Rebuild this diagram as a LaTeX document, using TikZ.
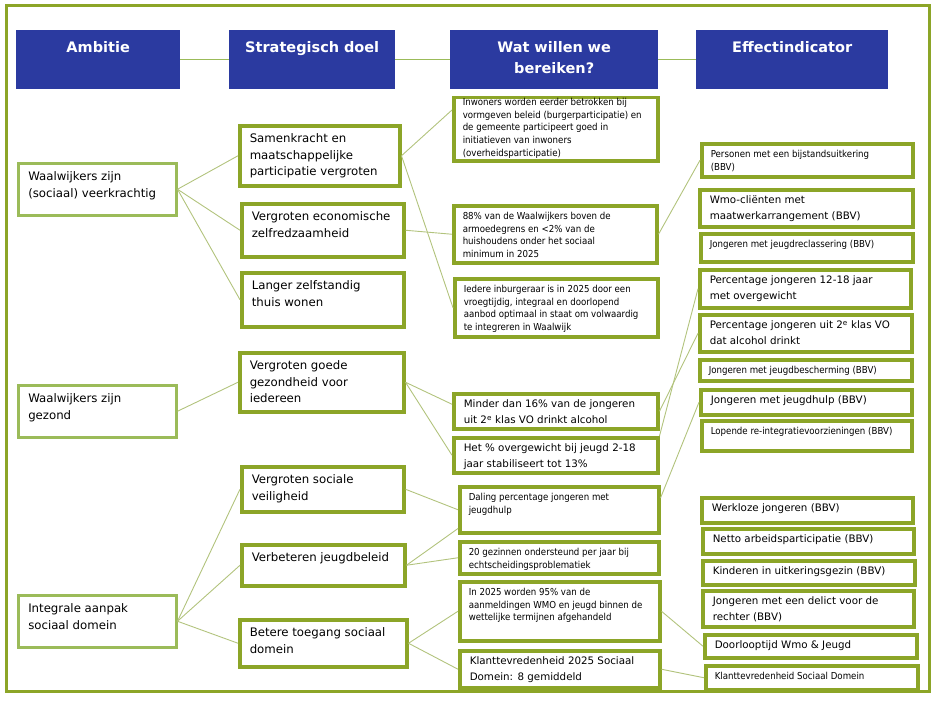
\documentclass[tikz,border=0pt]{standalone}
\usepackage{fontspec}
\setmainfont{DejaVu Sans}
\newfontfamily\narrowfont[FakeStretch = 0.9]{DejaVu Sans}
\definecolor{headblue}{RGB}{43,58,160}
\definecolor{boxolive}{RGB}{140,165,40}
\definecolor{lightolive}{RGB}{155,187,89}
\definecolor{linkolive}{RGB}{178,195,125}

\begin{document}
\begin{tikzpicture}
[
x = 1pt, y = -1pt,
header/.style 2 args = {rectangle, fill = headblue, text = white, anchor = north west, font = \bfseries\fontsize{14.5}{21}\selectfont, align = center, inner xsep = 4pt, inner ysep = 10pt, text height = 12pt, text width = #1 - 8pt, text depth = #2 - 32pt},
ambition/.style 2 args = {rectangle, draw = lightolive, line width = 2.5pt, fill = white, anchor = north west, xshift = 2pt, yshift = -2pt, font = \fontsize{11.75}{17}\selectfont, align = flush left, inner xsep = 10pt, inner ysep = 4pt, text height = 13pt, text width = #1 - 24pt, text depth = #2 - 25pt},
goal/.style 2 args = {ambition = {#1}{#2}, draw = boxolive, line width = 3.5pt, font = \fontsize{11.75}{16.5}\selectfont},
narrow/.style 2 args = {goal = {#1}{#2}, font = \narrowfont\fontsize{9.6}{12.6}\selectfont, inner xsep = 9pt, inner ysep = 3pt, text height = 11pt, text width = #1 - 22pt, text depth = #2 - 21pt},
wide/.style 2 args = {goal = {#1}{#2}, font = \fontsize{10.3}{16}\selectfont, inner ysep = 3pt, text height = 11pt, text depth = #2 - 21pt},
link/.style = {draw = linkolive, line width = 0.9pt},
headlink/.style = {draw = lightolive, line width = 1pt}
]
    \useasboundingbox (0, 0) rectangle (935, 701);
    \draw[boxolive, line width = 3pt] (6, 6) rectangle (929, 691);

    % headers
    \node[header = {164}{59}] (ambitie) at (16, 30) {Ambitie};
    \node[header = {166}{59}] (doel) at (229, 30) {Strategisch doel};
    \node[header = {208}{59}] (wat) at (450, 30) {Wat willen we\\bereiken?};
    \node[header = {192}{59}] (effect) at (696, 30) {Effectindicator};

    % ambitie
    \node[ambition = {162}{56}] (veerkrachtig) at (15, 160) {Waalwijkers zijn\\(sociaal) veerkrachtig};
    \node[ambition = {162}{56}] (gezond) at (15, 382) {Waalwijkers zijn\\gezond};
    \node[ambition = {162}{56}] (integraal) at (15, 592) {Integrale aanpak\\sociaal domein};

    % strategisch doel
    \node[goal = {164}{64}] (samenkracht) at (236, 122) {Samenkracht en\\maatschappelijke\\participatie vergroten};
    \node[goal = {166}{57}] (economisch) at (238, 200) {Vergroten economische\\zelfredzaamheid};
    \node[goal = {166}{58}] (zelfstandig) at (238, 269) {Langer zelfstandig\\thuis wonen};
    \node[goal = {168}{63}] (gezondheid) at (236, 349) {Vergroten goede\\gezondheid voor\\iedereen};
    \node[goal = {166}{49}] (veiligheid) at (238, 463) {Vergroten sociale\\veiligheid};
    \node[goal = {167}{45}] (jeugdbeleid) at (238, 541) {Verbeteren jeugdbeleid};
    \node[goal = {171}{51}] (toegang) at (236, 616) {Betere toegang sociaal\\domein};

    % wat willen we bereiken
    \node[narrow = {208}{67}, text height = 5pt, text depth = 52pt] (inwoners) at (450, 94) {Inwoners worden eerder betrokken bij\\vormgeven beleid (burgerparticipatie) en\\de gemeente participeert goed in\\initiatieven van inwoners\\(overheidsparticipatie)};
    \node[narrow = {207}{61}] (armoede) at (450, 202) {88\% van de Waalwijkers boven de\\armoedegrens en <2\% van de\\huishoudens onder het sociaal\\minimum in 2025};
    \node[narrow = {207}{62}] (inburgering) at (451, 275) {Iedere inburgeraar is in 2025 door een\\vroegtijdig, integraal en doorlopend\\aanbod optimaal in staat om volwaardig\\te integreren in Waalwijk};
    \node[wide = {208}{39}] (alcohol) at (450, 390) {Minder dan 16\% van de jongeren\\uit 2\textsuperscript{e} klas VO drinkt alcohol};
    \node[wide = {208}{39}] (overgewicht) at (450, 434) {Het \% overgewicht bij jeugd 2-18\\jaar stabiliseert tot 13\%};
    \node[narrow = {203}{50}] (jeugdhulp) at (456, 483) {Daling percentage jongeren met\\jeugdhulp};
    \node[narrow = {203}{36}] (scheiding) at (456, 538) {20 gezinnen ondersteund per jaar bij\\echtscheidingsproblematiek};
    \node[narrow = {204}{63}] (termijnen) at (456, 578) {In 2025 worden 95\% van de\\aanmeldingen WMO en jeugd binnen de\\wettelijke termijnen afgehandeld};
    \node[wide = {204}{41}] (tevreden) at (456, 647) {Klanttevredenheid 2025 Sociaal\\Domein: 8 gemiddeld};

    % effectindicator
    \node[narrow = {215}{37}] (bijstand) at (698, 140) {Personen met een bijstandsuitkering\\(BBV)};
    \node[wide = {217}{41}] (wmo) at (696, 186) {Wmo-cliënten met\\maatwerkarrangement (BBV)};
    \node[narrow = {216}{32}] (reclassering) at (697, 230) {Jongeren met jeugdreclassering (BBV)};
    \node[wide = {215}{42}] (overgewichtind) at (696, 266) {Percentage jongeren 12-18 jaar\\met overgewicht};
    \node[wide = {216}{41}] (alcoholind) at (696, 311) {Percentage jongeren uit 2\textsuperscript{e} klas VO\\dat alcohol drinkt};
    \node[narrow = {216}{25}] (bescherming) at (696, 356) {Jongeren met jeugdbescherming (BBV)};
    \node[wide = {215}{29}] (jeugdhulpind) at (697, 386) {Jongeren met jeugdhulp (BBV)};
    \node[narrow = {214}{34}] (reintegratie) at (698, 417) {Lopende re-integratievoorzieningen (BBV)};
    \node[wide = {215}{29}] (werkloos) at (698, 494) {Werkloze jongeren (BBV)};
    \node[wide = {215}{29}] (arbeid) at (699, 525) {Netto arbeidsparticipatie (BBV)};
    \node[wide = {216}{28}] (uitkering) at (699, 557) {Kinderen in uitkeringsgezin (BBV)};
    \node[wide = {215}{40}] (delict) at (699, 587) {Jongeren met een delict voor de\\rechter (BBV)};
    \node[wide = {216}{27}] (doorloop) at (701, 631) {Doorlooptijd Wmo \& Jeugd};
    \node[narrow = {216}{28}] (tevredenind) at (702, 662) {Klanttevredenheid Sociaal Domein};

    \draw[headlink] (ambitie) -- (doel);
    \draw[headlink] (doel) -- (wat);
    \draw[headlink] (wat) -- (effect);

    \draw[link] (veerkrachtig.east) -- (samenkracht.west);
    \draw[link] (veerkrachtig.east) -- (economisch.west);
    \draw[link] (veerkrachtig.east) -- (zelfstandig.west);
    \draw[link] (gezond.east) -- (gezondheid.west);
    \draw[link] (integraal.east) -- (veiligheid.west);
    \draw[link] (integraal.east) -- (jeugdbeleid.west);
    \draw[link] (integraal.east) -- (toegang.west);

    \draw[link] (samenkracht.east) -- ([yshift = -14pt]inwoners.north west);
    \draw[link] (samenkracht.east) -- (inburgering.west);
    \draw[link] (economisch.east) -- (armoede.west);
    \draw[link] (gezondheid.east) -- ([yshift = 7pt]alcohol.west);
    \draw[link] (gezondheid.east) -- (overgewicht.west);
    \draw[link] (veiligheid.east) -- (jeugdhulp.west);
    \draw[link] (jeugdbeleid.east) -- ([yshift = 6pt]jeugdhulp.south west);
    \draw[link] (jeugdbeleid.east) -- (scheiding.west);
    \draw[link] (toegang.east) -- (termijnen.west);
    \draw[link] (toegang.east) -- (tevreden.west);

    \draw[link] (armoede.east) -- (bijstand.west);
    \draw[link] (alcohol.east) -- (alcoholind.west);
    \draw[link] (overgewicht.north east) -- (overgewichtind.west);
    \draw[link] ([yshift = -13pt]jeugdhulp.north east) -- (jeugdhulpind.west);
    \draw[link] (termijnen.east) -- (doorloop.west);
    \draw[link] (tevreden.east) -- (tevredenind.west);
\end{tikzpicture}
\end{document}
